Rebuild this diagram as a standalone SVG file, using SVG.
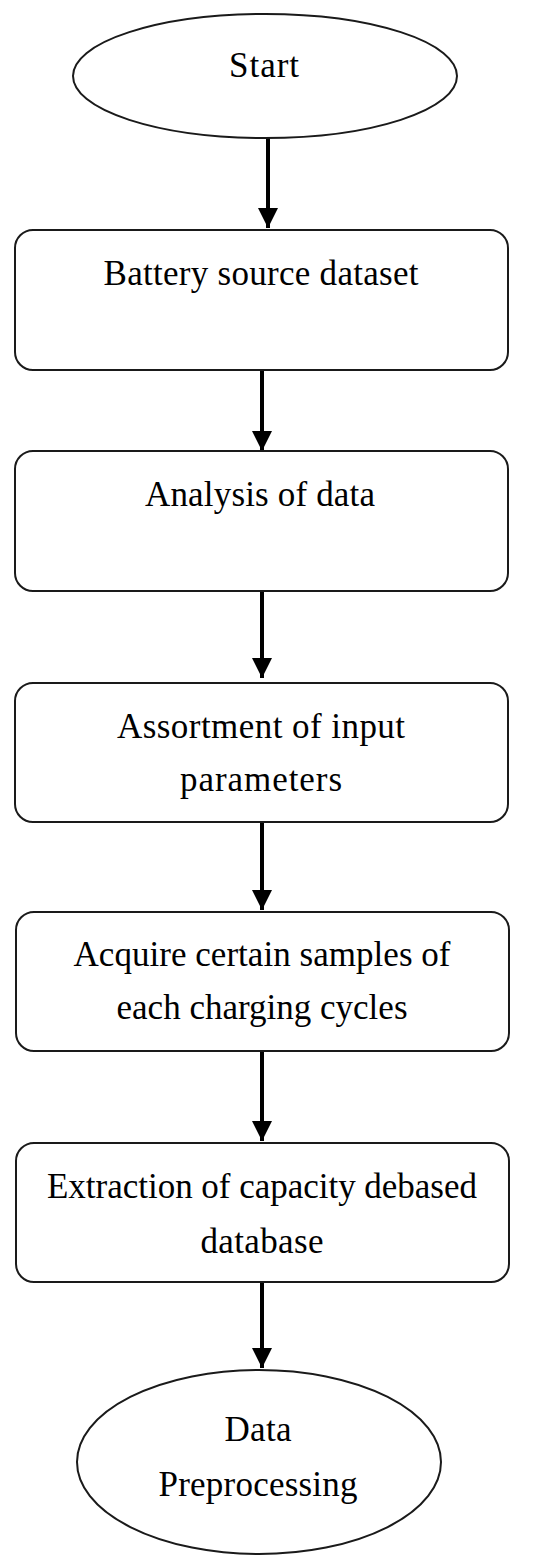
<svg xmlns="http://www.w3.org/2000/svg" width="550" height="1566" viewBox="0 0 550 1566">
<defs>
<style>
.shape{fill:#fff;stroke:#1a1a1a;stroke-width:2}
.lbl{font-family:"Liberation Serif","Times New Roman",serif;font-size:35px;fill:#000;text-anchor:middle}
.conn{stroke:#000;stroke-width:4;fill:none}
</style>
<marker id="ah" viewBox="0 0 10 10" refX="10" refY="5" markerWidth="5" markerHeight="5" markerUnits="strokeWidth" orient="auto">
<path d="M0,0 L10,5 L0,10 Z" fill="#000"/>
</marker>
</defs>
<rect width="550" height="1566" fill="#fff"/>
<g id="connectors">
<line class="conn" x1="268" y1="138" x2="268" y2="228" marker-end="url(#ah)"/>
<line class="conn" x1="262" y1="365" x2="262" y2="451" marker-end="url(#ah)"/>
<line class="conn" x1="262" y1="591" x2="262" y2="678" marker-end="url(#ah)"/>
<line class="conn" x1="262" y1="822" x2="262" y2="910" marker-end="url(#ah)"/>
<line class="conn" x1="262" y1="1051" x2="262" y2="1141" marker-end="url(#ah)"/>
<line class="conn" x1="262" y1="1281" x2="262" y2="1368" marker-end="url(#ah)"/>
</g>
<g id="start">
<ellipse class="shape" cx="265" cy="76" rx="192" ry="62"/>
<text class="lbl" x="264" y="77" textLength="70">Start</text>
</g>
<g id="battery">
<rect class="shape" x="15" y="230" width="493" height="140" rx="18"/>
<text class="lbl" x="261" y="285" textLength="315">Battery source dataset</text>
</g>
<g id="analysis">
<rect class="shape" x="15" y="451" width="493" height="140" rx="18"/>
<text class="lbl" x="260" y="506" textLength="230">Analysis of data</text>
</g>
<g id="assortment">
<rect class="shape" x="15" y="683" width="493" height="139" rx="18"/>
<text class="lbl" x="261" y="738" textLength="288">Assortment of input</text>
<text class="lbl" x="261" y="791" textLength="162">parameters</text>
</g>
<g id="acquire">
<rect class="shape" x="16" y="912" width="493" height="139" rx="18"/>
<text class="lbl" x="262" y="966" textLength="377">Acquire certain samples of</text>
<text class="lbl" x="262" y="1019" textLength="291">each charging cycles</text>
</g>
<g id="extraction">
<rect class="shape" x="16" y="1143" width="493" height="139" rx="18"/>
<text class="lbl" x="262" y="1198" textLength="430">Extraction of capacity debased</text>
<text class="lbl" x="262" y="1253" textLength="123">database</text>
</g>
<g id="preprocessing">
<ellipse class="shape" cx="259" cy="1462" rx="182" ry="92"/>
<text class="lbl" x="258" y="1441" textLength="67">Data</text>
<text class="lbl" x="258" y="1496" textLength="199">Preprocessing</text>
</g>
</svg>
